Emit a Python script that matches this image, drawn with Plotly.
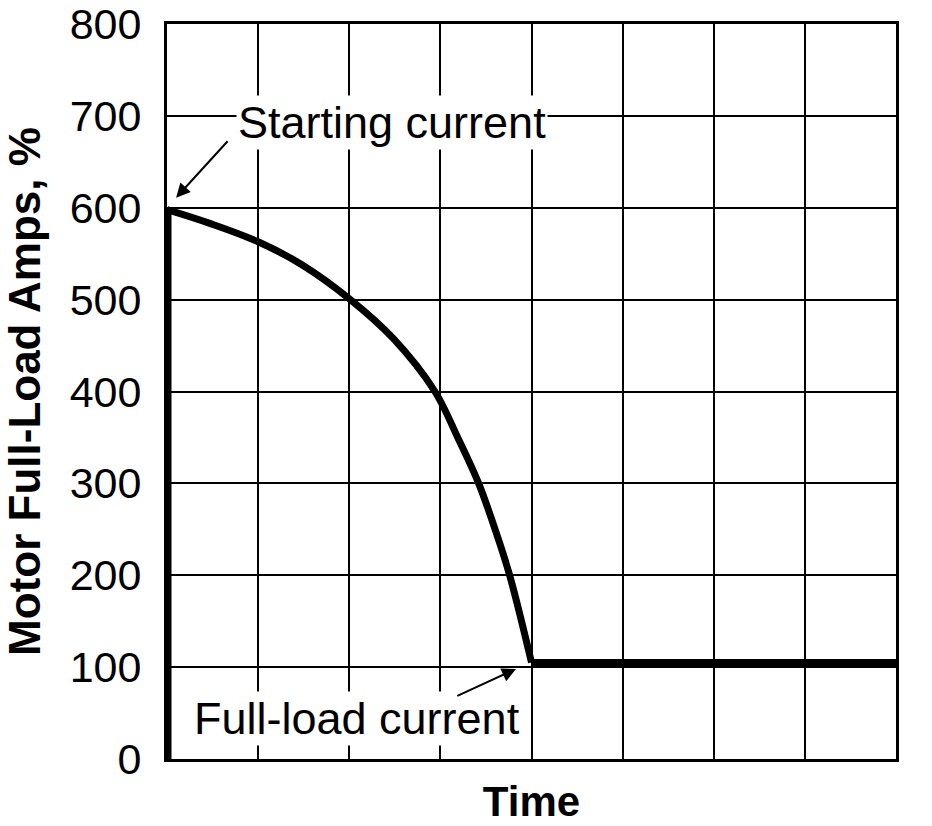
import plotly.graph_objects as go

# motor starting current vs time
rise_time = [0, 0]
rise_amps = [0, 600]

decay_time = [0, 0.47, 1.0, 1.48, 2.0, 2.48, 2.94, 3.19, 3.42, 3.60, 3.76, 4.0]
decay_amps = [598, 583, 563, 538, 501, 458, 400, 350, 300, 250, 200, 105]

steady_time = [4.0, 8.0]
steady_amps = [105, 105]

y_ticks = [0, 100, 200, 300, 400, 500, 600, 700, 800]

FONT = "Liberation Sans, Arial, sans-serif"

fig = go.Figure()
fig.add_trace(go.Scatter(x=rise_time, y=rise_amps, mode="lines",
                         line=dict(color="black", width=9), cliponaxis=False))
fig.add_trace(go.Scatter(x=decay_time, y=decay_amps, mode="lines",
                         line=dict(color="black", width=7, shape="spline", smoothing=1.0),
                         cliponaxis=False))
fig.add_trace(go.Scatter(x=steady_time, y=steady_amps, mode="lines",
                         line=dict(color="black", width=7), cliponaxis=False))

# labels with white boxes that hide the grid behind them
fig.add_annotation(x=2.47, y=693, text="Starting current", showarrow=False,
                   font=dict(family=FONT, size=45, color="black"),
                   bgcolor="white", borderpad=1)
fig.add_annotation(x=2.08, y=44, text="Full-load current", showarrow=False,
                   font=dict(family=FONT, size=45, color="black"),
                   bgcolor="white", borderpad=1)

# arrows
fig.add_annotation(x=0.1, y=611, ax=0.68, ay=674, xref="x", yref="y",
                   axref="x", ayref="y", text="", showarrow=True,
                   arrowhead=2, arrowsize=1.4, arrowwidth=2, arrowcolor="black")
fig.add_annotation(x=3.83, y=98, ax=3.17, ay=68, xref="x", yref="y",
                   axref="x", ayref="y", text="", showarrow=True,
                   arrowhead=2, arrowsize=1.4, arrowwidth=2, arrowcolor="black")

fig.update_xaxes(range=[0, 8], dtick=1, showticklabels=False, automargin=False,
                 showgrid=True, gridcolor="black", gridwidth=2,
                 showline=True, linecolor="black", linewidth=3, mirror=True,
                 zeroline=False,
                 title=dict(text="<b>Time</b>", font=dict(family=FONT, size=42, color="black"),
                            standoff=26))
fig.update_yaxes(range=[0, 800], tickvals=y_ticks, automargin=False,
                 tickfont=dict(family=FONT, size=43, color="black"),
                 ticklabelstandoff=14,
                 showgrid=True, gridcolor="black", gridwidth=2,
                 showline=True, linecolor="black", linewidth=3, mirror=True,
                 zeroline=False,
                 title=dict(text="<b>Motor Full-Load Amps, %</b>",
                            font=dict(family=FONT, size=44, color="black"), standoff=20))

fig.update_layout(
    width=932,
    height=826,
    showlegend=False,
    plot_bgcolor="white",
    paper_bgcolor="white",
    margin=dict(l=167, r=36, t=24, b=67),
)

# drop the default 8px body margin so the figure sits at the page corner
fig.write_html("out.html", config={"displayModeBar": False},
               post_script="document.body.style.margin='0';")
